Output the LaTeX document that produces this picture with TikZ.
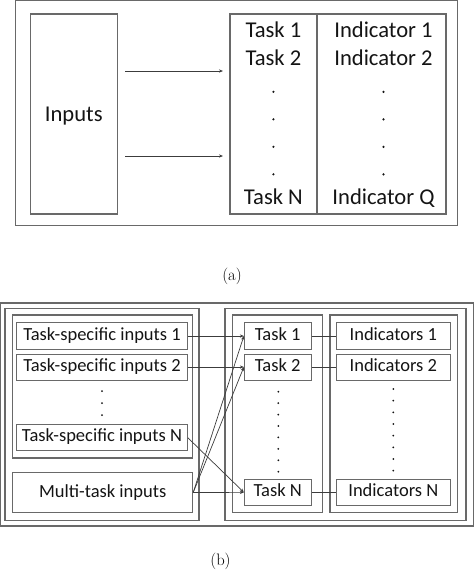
\documentclass[tikz,border=0pt]{standalone}
\usepackage{fontspec}
\setmainfont{Carlito}
\usetikzlibrary{arrows.meta}
\definecolor{linegray}{RGB}{105,105,105}
\definecolor{conn}{RGB}{60,60,60}
\definecolor{txt}{RGB}{20,20,20}
\tikzset{
  frame/.style={draw=linegray, line width=1.1pt},
  bigtext/.style={inner sep=0pt, text=txt, font=\fontsize{22.6}{27}\selectfont},
  tbox/.style={draw=linegray, line width=1pt, inner sep=0pt, text=txt,
    font=\fontsize{18.5}{22}\selectfont, text height=1em, text depth=0.2em},
  bigdot/.style={circle, fill=txt, inner sep=0pt, minimum size=2.4pt},
  smalldot/.style={circle, fill=txt, inner sep=0pt, minimum size=2pt},
  arr/.style={draw=conn, line width=0.7pt, -{Stealth[length=4pt,width=3.2pt]}},
  link/.style={draw=conn, line width=0.7pt},
  captext/.style={inner sep=0pt, font=\fontsize{16.6}{20}\selectfont}
}
\newfontfamily\lmfont{Latin Modern Roman}
\begin{document}
\begin{tikzpicture}[x=1pt,y=-1pt]
\useasboundingbox (0,0) rectangle (474,571);
% ---------- (a) ----------
\draw[frame] (15.5,0.8) rectangle (457.3,225.7);
\node[frame, minimum width=87pt, minimum height=200pt, inner sep=0pt] (inputs) at (73.8,114) {};
\node[bigtext, anchor=base] (inlabel) at (73.8,121) {Inputs};
\draw[frame] (230,14) rectangle (446,214);
\draw[frame] (317,14) -- (317,214);
\node[bigtext, anchor=base] (ta1) at (273.4,37.7) {Task 1};
\node[bigtext, anchor=base] (ta2) at (273.4,65.4) {Task 2};
\node[bigtext, anchor=base] (taN) at (273.4,204) {Task N};
\node[bigtext, anchor=base] (ia1) at (383.5,37.7) {Indicator 1};
\node[bigtext, anchor=base] (ia2) at (383.5,65.4) {Indicator 2};
\node[bigtext, anchor=base] (iaQ) at (383.5,204) {Indicator Q};
\foreach \k/\yy in {1/91.8,2/119.3,3/146.8,4/174.3} {
  \node[bigdot] (tad\k) at (273.4,\yy) {};
  \node[bigdot] (iad\k) at (383.5,\yy) {};
}
\coordinate (a1s) at (125,71);
\coordinate (a1e) at (223,71);
\coordinate (a2s) at (125,156);
\coordinate (a2e) at (223,156);
\draw[arr] (a1s) -- (a1e);
\draw[arr] (a2s) -- (a2e);
\node[captext, anchor=base] (capa) at (232,280.8) {\lmfont (a)};
% ---------- (b) ----------
\draw[frame] (0.7,303) rectangle (473.3,526);
\draw[frame] (5,308.7) rectangle (199,520.7);
\draw[frame] (12.7,315) rectangle (192.7,458);
\draw[frame] (225,308.7) rectangle (466,520.7);
\draw[frame] (232.7,315) rectangle (322.7,512.7);
\draw[frame] (330,315) rectangle (457.7,512.7);
\node[tbox, minimum width=170.6pt, minimum height=26.6pt] (ts1) at (102,336) {Task-specific inputs 1};
\node[tbox, minimum width=170.6pt, minimum height=26pt] (ts2) at (102,367) {Task-specific inputs 2};
\node[tbox, minimum width=170.6pt, minimum height=26pt] (tsN) at (102,437.7) {Task-specific inputs N};
\node[tbox, minimum width=180pt, minimum height=40.4pt, text depth=0.1em] (mt) at (102.7,492.5) {Multi-task inputs};
\node[smalldot] (lsd1) at (102,391) {};
\node[smalldot] (lsd2) at (102,403) {};
\node[smalldot] (lsd3) at (102,415) {};
\node[tbox, minimum width=66.7pt, minimum height=26.6pt] (t1) at (277.7,336) {Task 1};
\node[tbox, minimum width=66.7pt, minimum height=26pt] (t2) at (277.7,367) {Task 2};
\node[tbox, minimum width=66.7pt, minimum height=26.7pt] (tN) at (277.7,492.35) {Task N};
\node[tbox, minimum width=114.7pt, minimum height=26.6pt] (i1) at (393.35,336) {Indicators 1};
\node[tbox, minimum width=114.7pt, minimum height=26pt] (i2) at (393.35,367) {Indicators 2};
\node[tbox, minimum width=114.7pt, minimum height=26.7pt] (iN) at (393.35,492.35) {Indicators N};
\foreach \k in {0,...,7} {
  \node[smalldot] (td\k) at (278.3,391.7+11.43*\k) {};
  \node[smalldot] (id\k) at (393.3,389+11.67*\k) {};
}
\draw[arr] (ts1.east) -- (t1.west);
\draw[arr] (ts2.east) -- (t2.west);
\draw[arr] (tsN.east) -- (tN.west);
\draw[arr] (mt.east) -- (t1.west);
\draw[arr] (mt.east) -- (t2.west);
\draw[arr] (mt.east) -- (tN.west);
\draw[link] (t1.east) -- (i1.west);
\draw[link] (t2.east) -- (i2.west);
\draw[link] (tN.east) -- (iN.west);
\node[captext, anchor=base] (capb) at (220.5,565.8) {\lmfont (b)};
\end{tikzpicture}
\end{document}
